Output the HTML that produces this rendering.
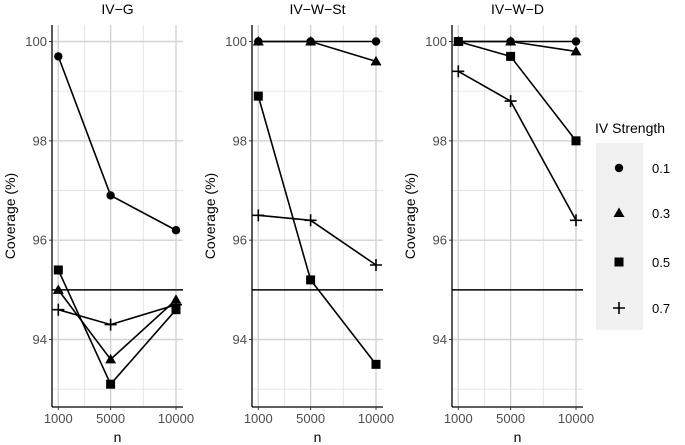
<!DOCTYPE html>
<html><head><meta charset="utf-8"><style>
body{margin:0;background:#fff}
svg{display:block;font-family:"Liberation Sans",Arial,sans-serif}
</style></head><body>
<svg id="chart" width="685" height="445"></svg>
<script>
const panels = ["IV−G","IV−W−St","IV−W−D"];
const nValues = [1000,5000,10000];
const strengths = ["0.1","0.3","0.5","0.7"];
const seriesIVG = [[99.7,96.9,96.2],[95.0,93.6,94.8],[95.4,93.1,94.6],[94.6,94.3,94.7]];
const seriesIVWSt = [[100,100,100],[100,100,99.6],[98.9,95.2,93.5],[96.5,96.4,95.5]];
const seriesIVWD = [[100,100,100],[100,100,99.8],[100,99.7,98.0],[99.4,98.8,96.4]];
const yTicks = [94,96,98,100];
const yMinor = [93,95,97,99];
const xMinor = [3000,7500];
const refLine = 95;

const NS="http://www.w3.org/2000/svg";
const svg=document.getElementById('chart');
function mk(tag,attrs,parent){const e=document.createElementNS(NS,tag);for(const k in attrs)e.setAttribute(k,attrs[k]);(parent||svg).appendChild(e);return e;}
const allSeries=[seriesIVG,seriesIVWSt,seriesIVWD];
const panelTop=25,panelBottom=407;
const yScale=v=>41.5+(100-v)*(298/6);
function drawShape(g,i,x,y){
  let e;
  if(i===0){e=mk('circle',{cx:x,cy:y,r:4.2,fill:'#000'},g);}
  else if(i===1){e=mk('polygon',{points:`${x},${y-5.5} ${x-5.5},${y+4} ${x+5.5},${y+4}`,fill:'#000'},g);}
  else if(i===2){e=mk('rect',{x:x-4.5,y:y-4.5,width:9,height:9,fill:'#000'},g);}
  else {e=mk('path',{d:`M${x-6},${y}H${x+6}M${x},${y-6}V${y+6}`,stroke:'#000','stroke-width':1.6,fill:'none'},g);}
  
  
}
panels.forEach((title,p)=>{
  const left=52+p*200,right=183+p*200;
  const xScale=n=>left+6.3+(n-1000)*(117.7/9000);
  const g=mk('g',{});
  
  
  yMinor.forEach(v=>mk('line',{x1:left,x2:right,y1:yScale(v),y2:yScale(v),stroke:'#e3e3e3','stroke-width':0.9},g));
  xMinor.forEach(v=>mk('line',{x1:xScale(v),x2:xScale(v),y1:panelTop,y2:panelBottom,stroke:'#e3e3e3','stroke-width':0.9},g));
  yTicks.forEach(v=>mk('line',{x1:left,x2:right,y1:yScale(v),y2:yScale(v),stroke:'#d3d3d3','stroke-width':1.4},g));
  nValues.forEach(v=>mk('line',{x1:xScale(v),x2:xScale(v),y1:panelTop,y2:panelBottom,stroke:'#d3d3d3','stroke-width':1.4},g));
  mk('line',{x1:left,x2:left,y1:panelTop,y2:panelBottom,stroke:'#000','stroke-width':1.3},g);
  mk('line',{x1:left,x2:right,y1:panelBottom,y2:panelBottom,stroke:'#000','stroke-width':1.3},g);
  yTicks.forEach(v=>{
    mk('line',{x1:left-3,x2:left,y1:yScale(v),y2:yScale(v),stroke:'#333','stroke-width':1},g);
    const t=mk('text',{x:left-5,y:yScale(v)+4.5,'text-anchor':'end','font-size':13,fill:'#4d4d4d'},g);t.textContent=v;
    
  });
  nValues.forEach(v=>{
    mk('line',{x1:xScale(v),x2:xScale(v),y1:panelBottom,y2:panelBottom+3,stroke:'#333','stroke-width':1},g);
    const t=mk('text',{x:xScale(v),y:panelBottom+16,'text-anchor':'middle','font-size':13,fill:'#4d4d4d'},g);t.textContent=v;
    
  });
  const xt=mk('text',{x:(left+right)/2,y:442,'text-anchor':'middle','font-size':14,fill:'#000'},g);xt.textContent='n';
  
  const yt=mk('text',{x:0,y:0,transform:`translate(${left-37},216) rotate(-90)`,'text-anchor':'middle','font-size':14,fill:'#000'},g);yt.textContent='Coverage (%)';
  
  const tt=mk('text',{x:(left+right)/2,y:14,'text-anchor':'middle','font-size':14,fill:'#000'},g);tt.textContent=title;
  
  const rl=mk('line',{x1:left,x2:right,y1:yScale(refLine),y2:yScale(refLine),stroke:'#000','stroke-width':1.5},g);
  
  allSeries[p].forEach((vals,i)=>{
    const pts=vals.map((v,j)=>xScale(nValues[j])+','+yScale(v)).join(' ');
    const l=mk('polyline',{points:pts,fill:'none',stroke:'#000','stroke-width':1.6},g);
    
    vals.forEach((v,j)=>drawShape(g,i,xScale(nValues[j]),yScale(v)));
  });
});
const lg=mk('g',{});


const lt=mk('text',{x:595,y:133,'font-size':14,fill:'#000'},lg);lt.textContent='IV Strength';
mk('rect',{x:596,y:143,width:47,height:187,fill:'#f0f0f0'},lg);
const ly=[168,213,262,308];
strengths.forEach((s,i)=>{
  drawShape(lg,i,619,ly[i]);
  const t=mk('text',{x:652,y:ly[i]+5,'font-size':13,fill:'#000'},lg);t.textContent=s;
  
});
</script>
</body></html>
